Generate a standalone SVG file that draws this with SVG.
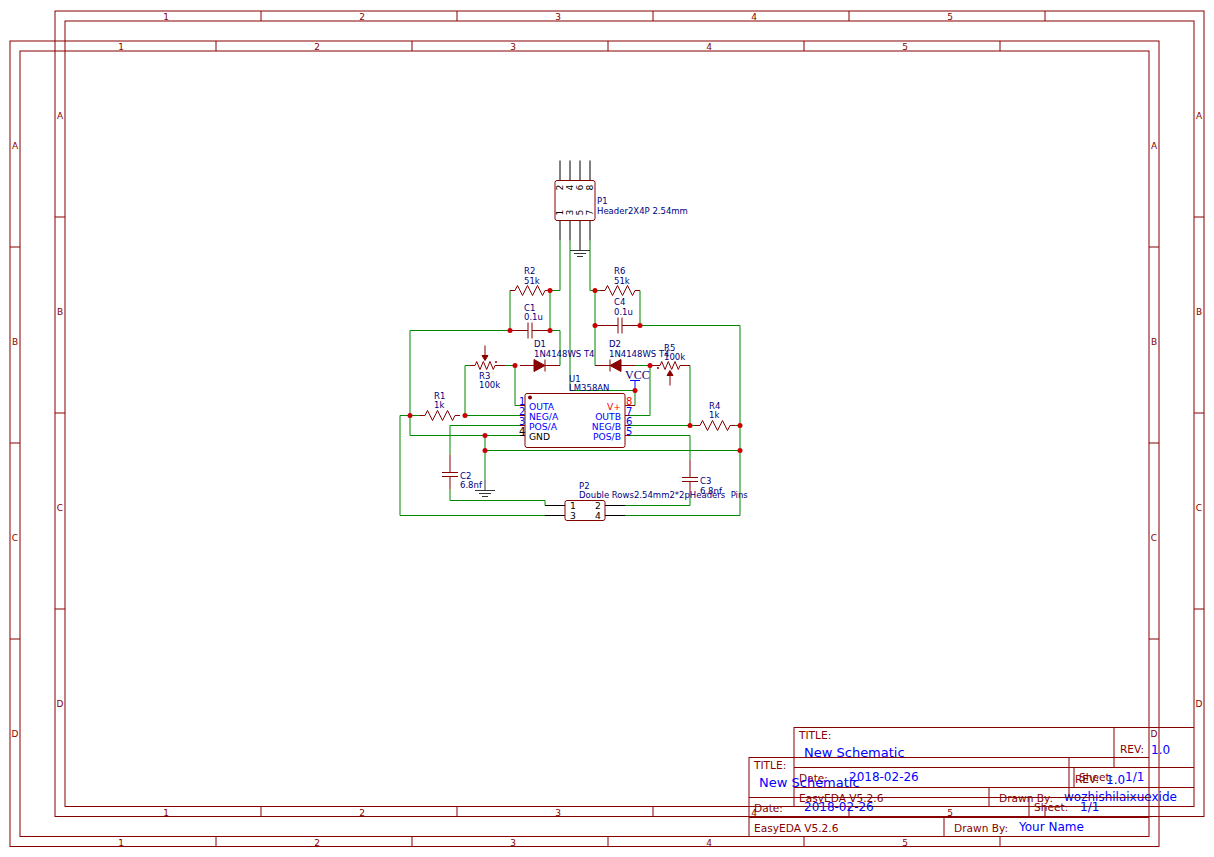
<svg xmlns="http://www.w3.org/2000/svg" width="1214" height="857" viewBox="0 0 1214 857">
<style>
text{font-family:"DejaVu Sans",Verdana,sans-serif;white-space:pre}
.f{fill:none;stroke:#880000;stroke-width:1}
.ft{fill:#880000;font-size:9px;text-anchor:middle}
.tl{fill:#880000;font-size:10.6px}
.tv{fill:#0000ff;font-size:12px}
.tn{fill:#0000ff;font-size:13px}
.w{fill:none;stroke:#008800;stroke-width:1}
.c{fill:none;stroke:#880000;stroke-width:1}
.g{fill:none;stroke:#333333;stroke-width:1}
.k{fill:none;stroke:#000000;stroke-width:1}
.b{fill:#fff;stroke:#880000;stroke-width:1}
.l{fill:#000080;font-size:8.5px}
.pb{fill:#0000ff;font-size:9.2px}
.pk{fill:#000000;font-size:9.2px}
.pn{fill:#0000ff;font-size:10px}
.j{fill:#cc0000}
</style>
<defs>
<g id="res"><polyline class="c" points="0,0 5,0 7.5,-5 12.5,5 17.5,-5 22.5,5 27.5,-5 32.5,5 35,0 40,0"/></g>
<g id="pot"><polyline class="c" points="0,0 5,0 6.7,-4 10,4 13.3,-4 16.7,4 20,-4 23.3,4 25,0 35,0"/></g>
<g id="cap"><path class="c" d="M0,0H18M22,0H40M18,-8V8M22,-8V8"/></g>
<g id="capv"><path class="c" d="M0,0V18M0,22V35M-8,18H8M-8,22H8"/></g>
<g id="gnd"><path class="g" d="M-10,0H10M-6,3H6M-3,6H3"/></g>
<g id="frame">
<rect class="f" x="10" y="41" width="1149" height="805.5"/>
<rect class="f" x="20" y="51" width="1129" height="785.5"/>
<path class="f" d="M216,41V51M412,41V51M608,41V51M804,41V51M1000,41V51M216,836.5V846.5M412,836.5V846.5M608,836.5V846.5M804,836.5V846.5M1000,836.5V846.5M10,247H20M10,443H20M10,639H20M1149,247H1159M1149,443H1159M1149,639H1159"/>
<text class="ft" x="121" y="50">1</text><text class="ft" x="317" y="50">2</text><text class="ft" x="513" y="50">3</text><text class="ft" x="709" y="50">4</text><text class="ft" x="905" y="50">5</text>
<text class="ft" x="121" y="846">1</text><text class="ft" x="317" y="846">2</text><text class="ft" x="513" y="846">3</text><text class="ft" x="709" y="846">4</text><text class="ft" x="905" y="846">5</text>
<text class="ft" x="15" y="149">A</text><text class="ft" x="15" y="345">B</text><text class="ft" x="15" y="541">C</text><text class="ft" x="15" y="737">D</text>
<text class="ft" x="1154" y="149">A</text><text class="ft" x="1154" y="345">B</text><text class="ft" x="1154" y="541">C</text><text class="ft" x="1154" y="737">D</text>
<path class="f" d="M749,836.5V757M749,757.5H1149M749,797.5H1149M749,817.5H1149M1069,757V797M1029,797V817M944,817V837"/>
<text class="tl" x="754" y="769">TITLE:</text>
<text class="tn" x="759" y="787">New Schematic</text>
<text class="tl" x="754" y="812">Date:</text>
<text class="tv" x="804" y="811">2018-02-26</text>
<text class="tl" x="754" y="832">EasyEDA V5.2.6</text>
<text class="tl" x="954" y="832">Drawn By:</text>
<text class="tl" x="1075" y="783">REV:</text>
<text class="tv" x="1106" y="784">1.0</text>
<text class="tl" x="1034" y="811">Sheet:</text>
<text class="tv" x="1080" y="811">1/1</text>
</g>
</defs>
<rect width="1214" height="857" fill="#fff"/>
<g id="frame-back"><use href="#frame" x="45" y="-30"/><text class="tv" x="1064" y="801">wozhishilaixuexide</text></g>
<g id="frame-front"><use href="#frame"/><text class="tv" x="1019" y="831">Your Name</text></g>
<g id="schematic" transform="translate(0,-0.5)">
<g id="connectors">
<path class="w" d="M560,241V291H550M510,291V331M550,291V331M410,331H510M550,331H560V366"/>
<path class="w" d="M570,241V391H635V406"/>
<path class="w" d="M590,241V291H600M595,291V366M640,291V326M640,326H740V516H625"/>
<path class="w" d="M410,331V436H520"/>
<path class="w" d="M515,366H505M475,366H465V416M515,366V406H520M465,416H520M420,416H400V516H545"/>
<path class="w" d="M485,436V480M485,451H740"/>
<path class="w" d="M520,426H450V455M450,490V501H545V506"/>
<path class="w" d="M650,366V416H630M650,366H635M690,366V426H630M695,426H690M735,426H740"/>
<path class="w" d="M630,436H690V460M690,495V506H625"/>
</g>
<g id="P1">
<path class="k" d="M560,161V181M570,161V181M580,161V181M590,161V181M560,221V241M570,221V241M580,221V251M590,221V241"/>
<rect class="b" x="555" y="181" width="40" height="40" rx="2"/>
<text class="pk" transform="translate(563,191) rotate(-90)">2</text>
<text class="pk" transform="translate(573,191) rotate(-90)">4</text>
<text class="pk" transform="translate(583,191) rotate(-90)">6</text>
<text class="pk" transform="translate(593,191) rotate(-90)">8</text>
<text class="pk" transform="translate(563,216) rotate(-90)">1</text>
<text class="pk" transform="translate(573,216) rotate(-90)">3</text>
<text class="pk" transform="translate(583,216) rotate(-90)">5</text>
<text class="pk" transform="translate(593,216) rotate(-90)">7</text>
<text class="l" x="597" y="204">P1</text><text class="l" x="597" y="214">Header2X4P 2.54mm</text>
</g>
<g id="GND1"><use href="#gnd" x="580" y="251"/></g>
<g id="R2"><use href="#res" x="510" y="291"/><text class="l" x="524" y="274">R2</text><text class="l" x="524" y="284">51k</text></g>
<g id="C1"><use href="#cap" x="510" y="331"/><text class="l" x="524" y="311">C1</text><text class="l" x="524" y="320">0.1u</text></g>
<g id="D1"><path class="c" d="M520,366H560"/><path d="M534,360V372L545,366Z" fill="#880000" stroke="#880000"/><path class="c" d="M545,360V372"/><text class="l" x="534" y="347">D1</text><text class="l" x="534" y="357">1N4148WS T4</text></g>
<g id="R3"><use href="#pot" x="470" y="366"/><circle cx="496" cy="362.5" r="1" fill="#880000"/><path class="c" d="M485,346V358"/><path d="M482,356H488L485,361Z" fill="#880000" stroke="#880000"/><text class="l" x="479" y="379">R3</text><text class="l" x="479" y="388">100k</text></g>
<g id="R1"><use href="#res" x="420" y="416"/><text class="l" x="434" y="399">R1</text><text class="l" x="434" y="408">1k</text></g>
<g id="C2"><use href="#capv" x="450" y="455"/><text class="l" x="460" y="479">C2</text><text class="l" x="460" y="488">6.8nf</text></g>
<g id="GND2"><path class="g" d="M485,480V491"/><use href="#gnd" x="485" y="491"/></g>
<g id="R6"><use href="#res" x="600" y="291"/><text class="l" x="614" y="274">R6</text><text class="l" x="614" y="284">51k</text></g>
<g id="C4"><path class="c" d="M595,326H600"/><use href="#cap" x="600" y="326"/><text class="l" x="614" y="305">C4</text><text class="l" x="614" y="315">0.1u</text></g>
<g id="D2"><path class="c" d="M595,366H635"/><path d="M621,360V372L610,366Z" fill="#880000" stroke="#880000"/><path class="c" d="M610,360V372"/><text class="l" x="609" y="347">D2</text><text class="l" x="609" y="357">1N4148WS T4</text></g>
<g id="R5"><g transform="rotate(180 685 366)"><use href="#pot" x="685" y="366"/></g><path class="c" d="M685,366H690"/><circle cx="658" cy="368.5" r="1" fill="#880000"/><path class="c" d="M670,386V374"/><path d="M667,376H673L670,371Z" fill="#880000" stroke="#880000"/><text class="l" x="664" y="351">R5</text><text class="l" x="664" y="360">100k</text></g>
<g id="R4"><use href="#res" x="695" y="426"/><text class="l" x="709" y="409">R4</text><text class="l" x="709" y="418">1k</text></g>
<g id="C3"><use href="#capv" x="690" y="460"/><text class="l" x="700" y="484">C3</text><text class="l" x="700" y="494">6.8nf</text></g>
<g id="VCC"><path d="M630,381H640M635,381V391" fill="none" stroke="#0000ff"/><text x="625" y="379" fill="#000080" style="font-family:'Liberation Serif',serif;font-size:12px">VCC</text></g>
<g id="U1">
<path class="c" d="M625,406H635"/><path class="k" d="M520,436H525"/>
<path class="c" d="M520,406H525M520,416H525M520,426H525M625,416H630M625,426H630M625,436H630"/>
<rect class="b" x="525" y="394" width="100" height="54" rx="2"/>
<circle cx="530" cy="398" r="2" fill="#880000"/>
<text class="pb" x="529" y="410">OUTA</text><text class="pb" x="529" y="420">NEG/A</text><text class="pb" x="529" y="430">POS/A</text><text class="pk" x="529" y="440">GND</text>
<text x="621" y="410" text-anchor="end" fill="#ff0000" font-size="9.2">V+</text><text class="pb" x="621" y="420" text-anchor="end">OUTB</text><text class="pb" x="621" y="430" text-anchor="end">NEG/B</text><text class="pb" x="621" y="440" text-anchor="end">POS/B</text>
<text class="pn" x="519" y="405">1</text><text class="pn" x="519" y="415">2</text><text class="pn" x="519" y="425">3</text><text x="519" y="435" fill="#000" font-size="10">4</text>
<text x="626" y="405" fill="#ff0000" font-size="10">8</text><text class="pn" x="626" y="415">7</text><text class="pn" x="626" y="425">6</text><text class="pn" x="626" y="435">5</text>
<text class="l" x="569" y="382">U1</text><text class="l" x="569" y="391">LM358AN</text>
</g>
<g id="P2">
<path class="k" d="M545,506H565M545,516H565M605,506H625M605,516H625"/>
<rect class="b" x="565" y="501" width="40" height="20" rx="2"/>
<text class="pk" x="570" y="509">1</text><text class="pk" x="570" y="519">3</text><text class="pk" x="595" y="509">2</text><text class="pk" x="595" y="519">4</text>
<text class="l" x="579" y="489">P2</text><text class="l" x="579" y="498">Double Rows2.54mm2*2pHeaders  Pins</text>
</g>
<g id="junctions" class="j">
<circle cx="550" cy="291" r="2.5"/><circle cx="510" cy="331" r="2.5"/><circle cx="550" cy="331" r="2.5"/><circle cx="595" cy="291" r="2.5"/><circle cx="595" cy="326" r="2.5"/><circle cx="640" cy="326" r="2.5"/><circle cx="515" cy="366" r="2.5"/><circle cx="650" cy="366" r="2.5"/><circle cx="635" cy="391" r="2.5"/><circle cx="410" cy="416" r="2.5"/><circle cx="465" cy="416" r="2.5"/><circle cx="690" cy="426" r="2.5"/><circle cx="740" cy="426" r="2.5"/><circle cx="485" cy="436" r="2.5"/><circle cx="485" cy="451" r="2.5"/><circle cx="740" cy="451" r="2.5"/>
</g>
</g>
</svg>
